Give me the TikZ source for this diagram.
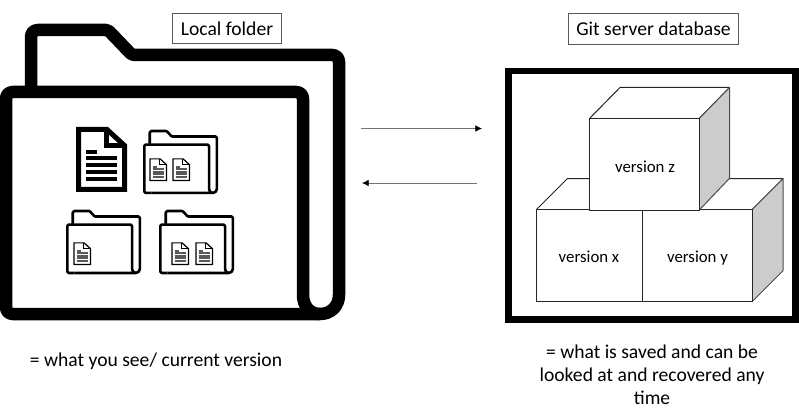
\documentclass[tikz,border=0pt]{standalone}
\usepackage{fontspec}
\setmainfont{Carlito}
\usetikzlibrary{arrows.meta}
\newcommand{\bigfolder}[4]{%
  % x, y, scale, stroke width (px)
  \begin{scope}[shift={(#1,#2)},x=#3*0.75pt,y=-#3*0.75pt,line width=#4*0.75pt,line join=round]
    \draw[rounded corners=#3*5pt] (31,92) -- (31,30) [rounded corners=#3*1.5pt] -- (108,30) -- (132,55) [rounded corners=#3*5pt] -- (339,55) -- (339,240);
    \draw (339,240) -- (339,295) .. controls (339,306) and (331,314) .. (320,314) -- (40,314);
    \draw[rounded corners=#3*5pt] (303,200) -- (303,92) -- (6,92) -- (6,314) -- (40,314);
    \draw (303,200) -- (303,295) .. controls (303,305) and (309,314) .. (320,314);
  \end{scope}}
\newcommand{\bigdoc}[6]{%
  % x, y, scale, stroke, line colour, text-line thickness
  \begin{scope}[shift={(#1,#2)},x=#3*0.75pt,y=-#3*0.75pt]
    \draw[line width=#4*0.75pt,miter limit=4] (2.5,2.5) -- (31,2.5) -- (48.5,18.5) -- (48.5,62.5) -- (2.5,62.5) -- cycle;
    \draw[line width=#4*0.75pt] (30,2.5) -- (30,19) -- (48,19);
    \draw[#5,line width=#6*#3*0.75pt] (10,25) -- (21,25);
    \foreach \yy in {31,38,45,52} \draw[#5,line width=#6*#3*0.75pt] (10,\yy) -- (41,\yy);
  \end{scope}}
\tikzset{
  labelbox/.style={draw=black!65,line width=0.6pt,minimum height=23pt,inner sep=0pt,font=\fontsize{14.7pt}{16pt}\selectfont},
  caption/.style={align=center,font=\fontsize{14.7pt}{17.25pt}\selectfont},
  cubeface/.style={draw=black!85,line width=0.75pt,fill=white,line join=round},
  cubeside/.style={draw=black!70,line width=0.75pt,fill=black!20,line join=round},
  cubetext/.style={font=\fontsize{12.6pt}{14pt}\selectfont},
  flow/.style={draw=black!55,line width=0.6pt,-{Latex[black,length=5pt,width=5pt]}}
}
\begin{document}
\begin{tikzpicture}[x=0.75pt,y=-0.75pt]
\useasboundingbox[fill=white] (0,0) rectangle (799,420);
% large folder
\bigfolder{0}{0}{1}{12.5}
% contents
\bigdoc{76}{127}{1}{5}{black}{3.2}
\bigfolder{143}{124.5}{0.218}{2.6}
\bigfolder{66}{204.5}{0.218}{2.6}
\bigfolder{159}{204.5}{0.218}{2.6}
\bigdoc{149}{158}{0.36}{1.2}{black!65}{5}
\bigdoc{172}{158}{0.36}{1.2}{black!65}{5}
\bigdoc{73}{242}{0.36}{1.2}{black!65}{5}
\bigdoc{171}{242}{0.36}{1.2}{black!65}{5}
\bigdoc{195}{242}{0.36}{1.2}{black!65}{5}
\node[labelbox,minimum width=81.5pt] (localLabel) at (227,28.5) {Local folder};
\node[labelbox,minimum width=128pt] (gitLabel) at (653.5,29) {Git server database};
% arrows
\coordinate (a1) at (361,128.5);
\coordinate (a2) at (482,128.5);
\coordinate (b1) at (477,183);
\coordinate (b2) at (362,183);
\draw[flow] (a1) -- (a2);
\draw[flow] (b1) -- (b2);
% database box
\draw[line width=4.9pt,miter limit=4] (508.5,71) rectangle (795.7,319.5);
% lower cubes
\draw[cubeface] (536.3,209.7) -- (567.3,178.7) -- (783,178.7) -- (752,209.7) -- cycle;
\draw[cubeside] (752,209.7) -- (783,178.7) -- (783,270.7) -- (752,301.7) -- cycle;
\draw[cubeface] (536.3,209.7) rectangle (642.5,301.7);
\draw[cubeface] (642.5,209.7) rectangle (752,301.7);
% upper cube
\draw[cubeface] (589.3,118.7) -- (620,87.5) -- (729.5,87.5) -- (699,118.7) -- cycle;
\draw[cubeside] (699,118.7) -- (729.5,87.5) -- (729.5,178.3) -- (699,210.3) -- cycle;
\draw[cubeface] (589.3,118.7) rectangle (699,210.3);
\node[cubetext] (vz) at (645,166.5) {version z};
\node[cubetext] (vx) at (589,257) {version x};
\node[cubetext] (vy) at (697.5,258) {version y};
% captions
\node[caption] (leftCap) at (156,361.5) {= what you see/ current version};
\node[caption] (rightCap) at (652,374.5) {= what is saved and can be\\looked at and recovered any\\time};
\end{tikzpicture}
\end{document}
